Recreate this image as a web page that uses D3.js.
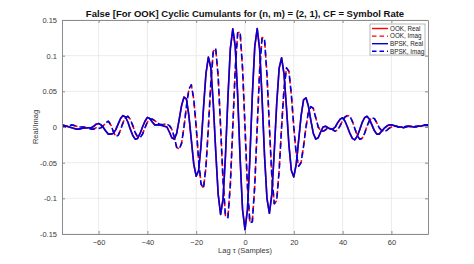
<!DOCTYPE html>
<html>
<head>
<meta charset="utf-8">
<script src="https://cdn.jsdelivr.net/npm/d3@7"></script>
<style>
  body { margin: 0; background: #fff; }
  text { font-family: "Liberation Sans", Arial, sans-serif; }
</style>
</head>
<body>
<div id="chart"></div>
<script>
// lag axis, samples -75 .. 75
const lags = d3.range(-75, 76);

// real part (BPSK and OOK coincide)
const realVals = [
  0.003, 0.002, 0.001, 0.000, -0.001, -0.002, -0.003, -0.003, -0.002, -0.0015,
  -0.0015, -0.001, -0.001, 0.001, 0.004, 0.005, 0.003, -0.001, -0.006, -0.010,
  -0.010, -0.009, -0.004, 0.004, 0.012, 0.016, 0.014, 0.007, -0.003, -0.012,
  -0.017, -0.016, -0.009, 0.000, 0.008, 0.0135, 0.012, 0.007, 0.003, 0.003,
  0.003, 0.002, 0.001, 0.000, -0.007, -0.015, -0.017, -0.009, 0.010, 0.030,
  0.042, 0.039, 0.016, -0.018, -0.052, -0.069, -0.061, -0.025, 0.027, 0.075,
  0.098, 0.083, 0.033, -0.034, -0.094, -0.1225, -0.101, -0.040, 0.041, 0.110,
  0.1375, 0.113, 0.044, -0.044, -0.116, -0.144, -0.116, -0.044, 0.044, 0.1125,
  0.138, 0.109, 0.0405, -0.040, -0.100, -0.121, -0.094, -0.034, 0.033, 0.0825,
  0.097, 0.074, 0.027, -0.025, -0.061, -0.070, -0.052, -0.018, 0.016, 0.038,
  0.041, 0.029, 0.009, -0.009, -0.017, -0.015, -0.007, 0.000, 0.001, -0.001,
  -0.003, -0.003, 0.000, 0.006, 0.011, 0.013, 0.008, 0.000, -0.009, -0.016,
  -0.018, -0.013, -0.004, 0.006, 0.013, 0.015, 0.011, 0.003, -0.005, -0.010,
  -0.010, -0.006, -0.002, 0.001, 0.003, 0.003, 0.002, 0.001, 0.000, 0.000,
  -0.001, 0.000, 0.001, 0.001, 0.000, 0.000, 0.001, 0.001, 0.002, 0.003,
  0.003
];

// imaginary part (BPSK and OOK coincide)
const imagVals = [
  0.000, 0.000, 0.001, 0.002, 0.003, 0.002, 0.001, 0.000, 0.000, 0.000,
  -0.001, -0.002, -0.003, -0.003, -0.001, -0.002, -0.001, 0.002, 0.006, 0.008,
  0.003, -0.006, -0.013, -0.012, -0.004, 0.006, 0.013, 0.015, 0.011, 0.002,
  -0.008, -0.014, -0.015, -0.010, -0.001, 0.007, 0.011, 0.011, 0.009, 0.006,
  0.004, 0.003, 0.004, 0.004, 0.002, -0.003, -0.014, -0.0285, -0.031, -0.023,
  0.000, 0.029, 0.053, 0.059, 0.039, 0.000, -0.047, -0.080, -0.086, -0.056,
  0.000, 0.062, 0.106, 0.110, 0.071, 0.000, -0.075, -0.1255, -0.127, -0.080,
  0.000, 0.081, 0.132, 0.133, 0.082, 0.000, -0.083, -0.134, -0.133, -0.082,
  0.000, 0.079, 0.1255, 0.123, 0.0735, 0.000, -0.069, -0.1075, -0.103, -0.061,
  0.000, 0.054, 0.083, 0.078, 0.045, 0.000, -0.038, -0.055, -0.0495, -0.027,
  0.000, 0.021, 0.0285, 0.026, 0.013, 0.000, -0.005, -0.006, -0.004, -0.001,
  -0.002, -0.004, -0.006, -0.004, 0.002, 0.009, 0.014, 0.016, 0.015, 0.008,
  -0.002, -0.012, -0.017, -0.016, -0.009, 0.001, 0.009, 0.013, 0.012, 0.006,
  -0.001, -0.005, -0.006, -0.005, -0.002, 0.000, 0.001, 0.001, 0.000, 0.000,
  0.000, 0.001, 0.001, 0.000, 0.000, 0.001, 0.001, 0.001, 0.002, 0.002,
  0.002
];

const seriesNames = ["OOK, Real", "OOK, Imag", "BPSK, Real", "BPSK, Imag"];
const seriesVals = [realVals, imagVals, realVals, imagVals];
const seriesColors = ["#ff0000", "#ff0000", "#0000dd", "#0000dd"];
const seriesDash = [null, "6,4", null, "6,4"];
const dashOffset = [0, 0, 0, 2];

const xTicks = [-60, -40, -20, 0, 20, 40, 60];
const yTicks = [-0.15, -0.1, -0.05, 0, 0.05, 0.1, 0.15];

const width = 474;
const height = 264;
const margin = { top: 20, right: 46, bottom: 30, left: 62 };

const svg = d3
  .select("#chart")
  .append("svg")
  .attr("width", width)
  .attr("height", height);

const x = d3
  .scaleLinear()
  .domain([-75, 75])
  .range([margin.left, width - margin.right]);

const y = d3
  .scaleLinear()
  .domain([-0.15, 0.15])
  .range([height - margin.bottom, margin.top]);

// grid
svg
  .append("g")
  .selectAll("line")
  .data(xTicks)
  .join("line")
  .attr("x1", (d) => x(d))
  .attr("x2", (d) => x(d))
  .attr("y1", y(-0.15))
  .attr("y2", y(0.15))
  .attr("stroke", "#e6e6e6")
  .attr("stroke-width", 0.8);

svg
  .append("g")
  .selectAll("line")
  .data(yTicks)
  .join("line")
  .attr("x1", x(-75))
  .attr("x2", x(75))
  .attr("y1", (d) => y(d))
  .attr("y2", (d) => y(d))
  .attr("stroke", "#e6e6e6")
  .attr("stroke-width", 0.8);

// lines
const line = d3
  .line()
  .x((d) => x(d[0]))
  .y((d) => y(d[1]));

svg
  .append("clipPath")
  .attr("id", "clip")
  .append("rect")
  .attr("x", x(-75))
  .attr("y", y(0.15))
  .attr("width", x(75) - x(-75))
  .attr("height", y(-0.15) - y(0.15));

seriesVals.forEach((vals, i) => {
  svg
    .append("path")
    .datum(lags.map((l, j) => [l, vals[j]]))
    .attr("clip-path", "url(#clip)")
    .attr("fill", "none")
    .attr("stroke", seriesColors[i])
    .attr("stroke-width", 1.6)
    .attr("stroke-linejoin", "round")
    .attr("stroke-dasharray", seriesDash[i])
    .attr("stroke-dashoffset", dashOffset[i])
    .attr("d", line);
});

// axes
const axisColor = "#8c8c8c";
const textColor = "#3a3a3a";

const xAxis = d3
  .axisBottom(x)
  .tickValues(xTicks)
  .tickSizeInner(-3)
  .tickSizeOuter(0)
  .tickPadding(6);
const yAxis = d3
  .axisLeft(y)
  .tickValues(yTicks)
  .tickFormat((d) => String(+d.toFixed(2)))
  .tickSizeInner(-3)
  .tickSizeOuter(0)
  .tickPadding(5);

const gx = svg
  .append("g")
  .attr("transform", `translate(0, ${y(-0.15)})`)
  .call(xAxis);
const gy = svg
  .append("g")
  .attr("transform", `translate(${x(-75)}, 0)`)
  .call(yAxis);

// top and right box edges with ticks
const gxTop = svg
  .append("g")
  .attr("transform", `translate(0, ${y(0.15)})`)
  .call(d3.axisTop(x).tickValues(xTicks).tickSizeInner(-3).tickSizeOuter(0).tickFormat(""));
const gyRight = svg
  .append("g")
  .attr("transform", `translate(${x(75)}, 0)`)
  .call(d3.axisRight(y).tickValues(yTicks).tickSizeInner(-3).tickSizeOuter(0).tickFormat(""));

[gx, gy, gxTop, gyRight].forEach((g) => {
  g.select(".domain").attr("stroke", axisColor);
  g.selectAll(".tick line").attr("stroke", axisColor);
  g.selectAll("text")
    .attr("fill", textColor)
    .style("font-size", "7.5px")
    .style("font-family", "'Liberation Sans', Arial, sans-serif");
});

// title and labels
svg
  .append("text")
  .attr("x", (x(-75) + x(75)) / 2)
  .attr("y", 17)
  .attr("text-anchor", "middle")
  .attr("font-weight", "bold")
  .attr("font-size", "9.5px")
  .attr("fill", "#111")
  .text("False [For OOK] Cyclic Cumulants for (n, m) = (2, 1), CF = Symbol Rate");

svg
  .append("text")
  .attr("x", (x(-75) + x(75)) / 2)
  .attr("y", 253)
  .attr("text-anchor", "middle")
  .attr("font-size", "7.5px")
  .attr("fill", textColor)
  .text("Lag τ (Samples)");

svg
  .append("text")
  .attr("transform", `translate(38, ${(y(0.15) + y(-0.15)) / 2}) rotate(-90)`)
  .attr("text-anchor", "middle")
  .attr("font-size", "7.5px")
  .attr("fill", textColor)
  .text("Real/Imag");

// legend
const legend = svg.append("g").attr("transform", "translate(370, 24)");
legend
  .append("rect")
  .attr("width", 55)
  .attr("height", 31)
  .attr("fill", "#fff")
  .attr("stroke", "#9a9a9a")
  .attr("stroke-width", 0.7);

seriesNames.forEach((name, i) => {
  const ly = 4.5 + i * 7.6;
  legend
    .append("line")
    .attr("x1", 2)
    .attr("x2", 18)
    .attr("y1", ly)
    .attr("y2", ly)
    .attr("stroke", seriesColors[i])
    .attr("stroke-width", 1.4)
    .attr("stroke-dasharray", seriesDash[i] ? "4.5,3" : null);
  legend
    .append("text")
    .attr("x", 20)
    .attr("y", ly + 2.3)
    .attr("font-size", "6.3px")
    .attr("fill", "#222")
    .text(name);
});
</script>
</body>
</html>
